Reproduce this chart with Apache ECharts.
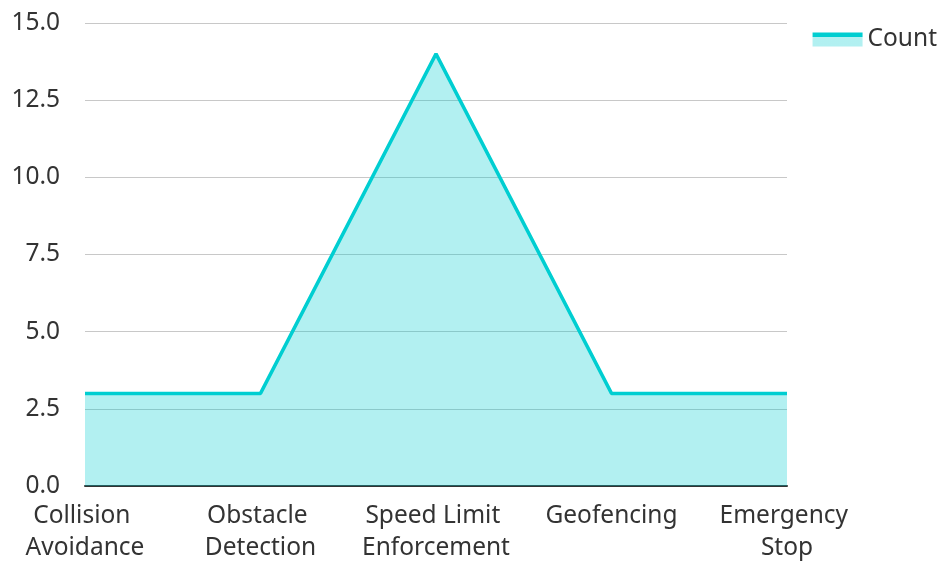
<!DOCTYPE html>
<html>
<head>
<meta charset="utf-8">
<script src="https://cdn.jsdelivr.net/npm/echarts@6/dist/echarts.min.js"></script>
<style>
  html, body { margin: 0; padding: 0; background: #fff; }
  #chart { width: 944px; height: 564px; }
</style>
</head>
<body>
<div id="chart"></div>
<script>
// Safety feature categories and their counts
const categories = ['Collision Avoidance', 'Obstacle Detection', 'Speed Limit Enforcement', 'Geofencing', 'Emergency Stop'];
const countValues = [3, 3, 14, 3, 3];
const seriesName = 'Count';

const FONT = '"Noto Sans", sans-serif';
const LINE = '#00CED1';
const FILL = 'rgba(0,206,209,0.3)';

// Legend swatch: solid outline band on top of the translucent area fill
const swatchBand = 4 / 14;
const swatchFill = new echarts.graphic.LinearGradient(0, 0, 0, 1, [
  { offset: 0, color: LINE },
  { offset: swatchBand, color: LINE },
  { offset: swatchBand, color: FILL },
  { offset: 1, color: FILL }
]);

const chart = echarts.init(document.getElementById('chart'));
chart.setOption({
  animation: false,
  textStyle: { fontFamily: FONT },
  legend: {
    right: 2,
    top: 22,
    icon: 'rect',
    itemWidth: 50,
    itemHeight: 14,
    itemGap: 10,
    itemStyle: { color: swatchFill, borderWidth: 0 },
    textStyle: { fontFamily: FONT, fontSize: 24.5, color: '#333', padding: [0, 0, 7, 0] },
    data: [seriesName]
  },
  grid: { left: 85, right: 157, top: 23, bottom: 75, containLabel: false },
  xAxis: {
    type: 'category',
    data: categories,
    boundaryGap: false,
    axisLine: { lineStyle: { color: '#333', width: 2 } },
    axisTick: { show: false },
    axisLabel: {
      fontFamily: FONT, fontSize: 24.5, color: '#333', lineHeight: 32,
      width: 150, overflow: 'break', margin: 14, interval: 0
    }
  },
  yAxis: {
    type: 'value',
    min: 0, max: 15, interval: 2.5,
    axisLine: { show: false },
    axisTick: { show: false },
    axisLabel: {
      fontFamily: FONT, fontSize: 24.5, color: '#333', margin: 25,
      formatter: v => v.toFixed(1)
    },
    splitLine: { lineStyle: { color: '#c8c8c8', width: 1 } }
  },
  series: [{
    name: seriesName,
    type: 'line',
    data: countValues,
    symbol: 'none',
    lineStyle: { color: LINE, width: 3.5 },
    itemStyle: { color: LINE },
    areaStyle: { color: FILL, opacity: 1 }
  }]
});
</script>
</body>
</html>
